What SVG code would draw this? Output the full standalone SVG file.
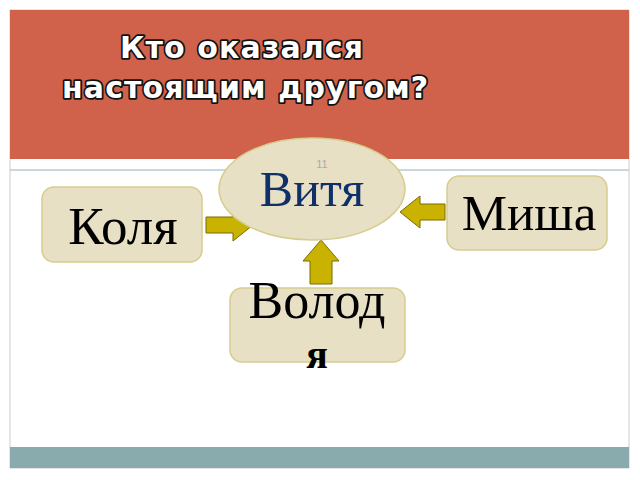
<svg xmlns="http://www.w3.org/2000/svg" width="640" height="480" viewBox="0 0 640 480">
<style>
.box{fill:#e8e0c4;stroke:#d6cc8e;stroke-width:1.5}
.arr{fill:#c9b200;stroke:#7a6a00;stroke-width:1}
.t{font-family:"Liberation Serif","DejaVu Serif",serif;fill:#000;text-anchor:middle}
.title{font-family:"DejaVu Sans","Liberation Sans",sans-serif;font-weight:bold;font-size:30px;fill:#fff;stroke:#111;stroke-width:3.5;paint-order:stroke;stroke-linejoin:round;letter-spacing:1.1px}
</style>
<rect width="640" height="480" fill="#fff"/>
<rect x="10" y="10" width="619" height="458" fill="#fff" stroke="#ccc"/>
<rect x="10" y="10" width="619" height="149" fill="#d0624b"/>
<line x1="10" y1="170" x2="629" y2="170" stroke="#b8cad0" stroke-width="1.5"/>
<rect x="10" y="447" width="619" height="21" fill="#8aabae"/>
<text class="title" x="120" y="58">Кто оказался</text>
<text class="title" x="62" y="98">настоящим другом?</text>
<g id="connectors">
<polygon class="arr" points="206,217 233,217 233,209 253,225 233,241 233,233 206,233"/>
<polygon class="arr" points="445,204 420,204 420,196 400,212 420,228 420,220 445,220"/>
<polygon class="arr" points="310,284 310,261 303,261 321,240 339,261 332,261 332,284"/>
</g>
<g id="vitya">
<ellipse class="box" cx="312" cy="189" rx="93" ry="51"/>
<text x="322" y="168" font-family="Liberation Sans,sans-serif" font-size="11" fill="#aaa" text-anchor="middle">11</text>
<text class="t" x="312" y="206" font-size="50" style="fill:#10306a">Витя</text>
</g>
<g id="kolya">
<rect class="box" x="42" y="187" width="160" height="75" rx="12"/>
<text class="t" x="123" y="244" font-size="53">Коля</text>
</g>
<g id="misha">
<rect class="box" x="447" y="176" width="160" height="74" rx="12"/>
<text class="t" x="529" y="230" font-size="51">Миша</text>
</g>
<g id="volodya">
<rect class="box" x="230" y="288" width="175" height="74" rx="12"/>
<text class="t" x="317" y="318" font-size="52">Волод</text>
<text class="t" x="317" y="368" font-size="40" font-weight="bold">я</text>
</g>
</svg>
